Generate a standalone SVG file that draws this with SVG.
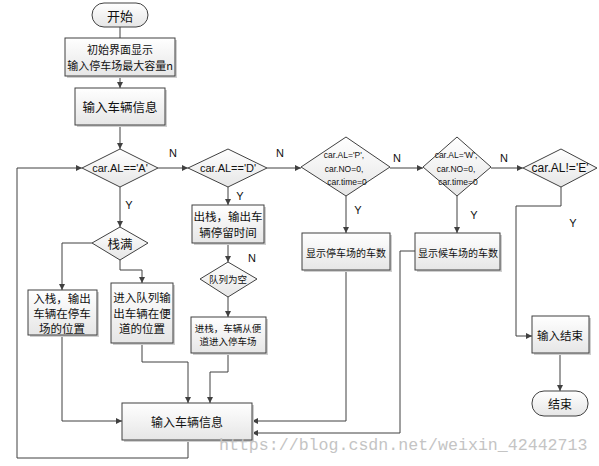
<svg xmlns="http://www.w3.org/2000/svg" width="599" height="466" viewBox="0 0 599 466">
<defs>
<linearGradient id="g" x1="0" y1="0" x2="0" y2="1">
<stop offset="0" stop-color="#ffffff"/>
<stop offset="1" stop-color="#e6e6e6"/>
</linearGradient>
<marker id="ar" markerUnits="userSpaceOnUse" markerWidth="7" markerHeight="7" refX="6" refY="3" orient="auto">
<path d="M0,0 L6,3 L0,6 z" fill="#404040"/>
</marker>
<style>
.n{fill:url(#g);stroke:#404040;stroke-width:1}
.sh{fill:#cfcfcf;stroke:none}
.c{fill:none;stroke:#404040;stroke-width:1}
.a{marker-end:url(#ar)}
.t{font-family:"Noto Sans CJK SC","Liberation Sans",sans-serif;fill:#111;text-anchor:middle;dominant-baseline:central}
.l{font-family:"Liberation Sans",sans-serif;font-size:11px;fill:#111;text-anchor:middle;dominant-baseline:central}
</style>
</defs>
<rect width="599" height="466" fill="#ffffff"/>

<g id="connectors">
<path class="c" d="M120,27 V38"/>
<path class="c a" d="M120,76 V88"/>
<path class="c a" d="M120,125 V149"/>
<path class="c a" d="M158,168 H188"/>
<path class="c a" d="M267,168 H301"/>
<path class="c a" d="M390,168 H423"/>
<path class="c a" d="M491,168 H523"/>
<path class="c a" d="M120,187 V227"/>
<path class="c a" d="M92,243 H62 V290"/>
<path class="c a" d="M120,260 V270 H142 V283"/>
<path class="c a" d="M228,187 V205"/>
<path class="c a" d="M228,243 V262"/>
<path class="c a" d="M228,297 V317"/>
<path class="c a" d="M346,196 V233"/>
<path class="c a" d="M457,196 V233"/>
<path class="c a" d="M561,187 V206 H516 V336 H532"/>
<path class="c a" d="M560,353 V391"/>
<path class="c a" d="M62,335 V421 H122"/>
<path class="c a" d="M142,343 V362 H188 V403"/>
<path class="c a" d="M228,353 V372 H210 V403"/>
<path class="c a" d="M346,270 V421 H252"/>
<path class="c a" d="M415,251 H400 V433 H252"/>
<path class="c a" d="M188,440 V458 H17 V168 H82"/>
</g>

<g id="start">
<rect x="92" y="3" width="56" height="24" rx="12" class="n"/>
<text x="120" y="15" class="t" font-size="13">开始</text>
</g>
<g id="init">
<rect x="67" y="40" width="110" height="38" class="sh"/>
<rect x="65" y="38" width="110" height="38" class="n"/>
<text x="120" y="49" class="t" font-size="11">初始界面显示</text>
<text x="120" y="65" class="t" font-size="11">输入停车场最大容量n</text>
</g>
<g id="input1">
<rect x="77" y="90" width="90" height="37" class="sh"/>
<rect x="75" y="88" width="90" height="37" class="n"/>
<text x="120" y="106" class="t" font-size="12.5">输入车辆信息</text>
</g>
<g id="decA">
<path d="M120,149 L158,168 L120,187 L82,168 Z" class="n"/>
<text x="120" y="168" class="l" font-size="12">car.AL=='A'</text>
</g>
<g id="decD">
<path d="M228,149 L267,168 L228,187 L188,168 Z" class="n"/>
<text x="228" y="168" class="l" font-size="12">car.AL=='D'</text>
</g>
<g id="decP">
<path d="M346,137 L390,167 L346,196 L301,167 Z" class="n"/>
<text x="344" y="155" class="l" style="font-size:8.5px">car.AL='P',</text>
<text x="344" y="169" class="l" style="font-size:8.5px">car.NO=0,</text>
<text x="347" y="182" class="l" style="font-size:8.5px">car.time=0</text>
</g>
<g id="decW">
<path d="M457,137 L491,167 L457,196 L423,167 Z" class="n"/>
<text x="456" y="155" class="l" style="font-size:8.5px">car.AL='W',</text>
<text x="456" y="169" class="l" style="font-size:8.5px">car.NO=0,</text>
<text x="458" y="182" class="l" style="font-size:8.5px">car.time=0</text>
</g>
<g id="decE">
<path d="M561,149 L597,168 L561,187 L523,168 Z" class="n"/>
<text x="560" y="168" class="l" style="font-size:12px">car.AL!='E'</text>
</g>
<g id="full">
<path d="M120,227 L148,243 L120,260 L92,243 Z" class="n"/>
<text x="120" y="243" class="t" font-size="12.5">栈满</text>
</g>
<g id="push">
<rect x="30" y="292" width="69" height="45" class="sh"/>
<rect x="28" y="290" width="69" height="45" class="n"/>
<text x="62" y="298" class="t" font-size="11.5">入栈，输出</text>
<text x="62" y="313" class="t" font-size="11.5">车辆在停车</text>
<text x="62" y="328" class="t" font-size="11.5">场的位置</text>
</g>
<g id="queue">
<rect x="113" y="285" width="62" height="60" class="sh"/>
<rect x="111" y="283" width="62" height="60" class="n"/>
<text x="142" y="297" class="t" font-size="11.5">进入队列输</text>
<text x="142" y="313" class="t" font-size="11.5">出车辆在便</text>
<text x="142" y="328" class="t" font-size="11.5">道的位置</text>
</g>
<g id="pop">
<rect x="194" y="207" width="72" height="38" class="sh"/>
<rect x="192" y="205" width="72" height="38" class="n"/>
<text x="228" y="216" class="t" font-size="11.5">出栈，输出车</text>
<text x="228" y="232" class="t" font-size="11.5">辆停留时间</text>
</g>
<g id="qempty">
<path d="M228,262 L257,279 L228,297 L200,279 Z" class="n"/>
<text x="228" y="279" class="t" font-size="9.5">队列为空</text>
</g>
<g id="enter">
<rect x="193" y="319" width="75" height="36" class="sh"/>
<rect x="191" y="317" width="75" height="36" class="n"/>
<text x="228" y="328" class="t" font-size="9.5">进栈，车辆从便</text>
<text x="228" y="341" class="t" font-size="9.5">道进入停车场</text>
</g>
<g id="showP">
<rect x="304" y="235" width="88" height="37" class="sh"/>
<rect x="302" y="233" width="88" height="37" class="n"/>
<text x="346" y="252" class="t" font-size="10">显示停车场的车数</text>
</g>
<g id="showW">
<rect x="417" y="235" width="85" height="37" class="sh"/>
<rect x="415" y="233" width="85" height="37" class="n"/>
<text x="458" y="252" class="t" font-size="10">显示候车场的车数</text>
</g>
<g id="endinput">
<rect x="534" y="318" width="57" height="37" class="sh"/>
<rect x="532" y="316" width="57" height="37" class="n"/>
<text x="560" y="335" class="t" font-size="11.5">输入结束</text>
</g>
<g id="end">
<rect x="532" y="391" width="56" height="25" rx="12" class="n"/>
<text x="560" y="403" class="t" font-size="12">结束</text>
</g>
<g id="input2">
<rect x="124" y="405" width="130" height="37" class="sh"/>
<rect x="122" y="403" width="130" height="37" class="n"/>
<text x="187" y="421" class="t" font-size="12">输入车辆信息</text>
</g>

<g id="labels">
<text x="173" y="153" class="l">N</text>
<text x="280" y="153" class="l">N</text>
<text x="397" y="158" class="l">N</text>
<text x="504" y="158" class="l">N</text>
<text x="252" y="258" class="l">N</text>
<text x="129" y="205" class="l">Y</text>
<text x="240" y="196" class="l">Y</text>
<text x="358" y="210" class="l">Y</text>
<text x="474" y="215" class="l">Y</text>
<text x="573" y="223" class="l">Y</text>
</g>
<text x="219" y="450" font-family="Liberation Mono, monospace" font-size="16.6" fill="#c4c4c4">https://blog.csdn.net/weixin_42442713</text>
</svg>
